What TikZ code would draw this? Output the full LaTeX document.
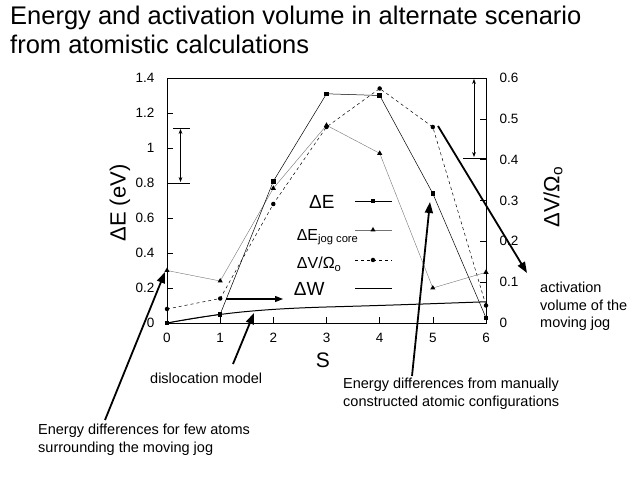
\documentclass[tikz,border=0pt]{standalone}
\usepackage{fontspec}
\setmainfont{Liberation Sans}
\usetikzlibrary{arrows.meta,shapes.geometric}
\begin{document}
\begin{tikzpicture}[x=1pt,y=-1pt,
  tick/.style={font=\fontsize{13.5}{16}\selectfont},
  note/.style={font=\fontsize{14.5}{17.5}\selectfont,align=left,anchor=north west,inner sep=0},
  big/.style={-{Triangle[length=11pt,width=8pt]},line width=1.8pt},
  dbl/.style={{Stealth[length=5pt]}-{Stealth[length=5pt]},line width=0.6pt},
  sq/.style={fill=black,minimum size=4.5pt,inner sep=0,rectangle},
  tri/.style={fill=black,regular polygon,regular polygon sides=3,minimum size=6pt,inner sep=0},
  dot/.style={fill=black,circle,minimum size=4.5pt,inner sep=0}]
\useasboundingbox (0,0) rectangle (638,478);
% title
\node[anchor=north west,inner sep=0,font=\fontsize{25.5}{29}\selectfont,align=left] (title) at (10,6) {Energy and activation volume in alternate scenario\\from atomistic calculations};
% frame
\draw[line width=0.5pt] (167,78) rectangle (486,323);
\foreach \v/\l in {0/0,0.2/0.2,0.4/0.4,0.6/0.6,0.8/0.8,1/1,1.2/1.2,1.4/1.4}{
  \pgfmathsetmacro\yy{323-175*\v}
  \draw (167,\yy) -- (173,\yy);
  \node[tick,anchor=east] at (158,\yy) {\l};}
\foreach \v in {0,0.1,0.2,0.3,0.4,0.5,0.6}{
  \pgfmathsetmacro\yy{323-408.3*\v}
  \draw (486,\yy) -- (480,\yy);
  \node[tick,anchor=west] at (496,\yy) {\v};}
\foreach \s in {0,...,6}{
  \pgfmathsetmacro\xx{167+53.17*\s}
  \draw (\xx,323) -- (\xx,317);
  \node[tick] at (\xx,338) {\s};}
\node[rotate=90,font=\fontsize{22}{26}\selectfont] (ylab) at (120,203) {ΔE (eV)};
\node[rotate=90,font=\fontsize{22}{26}\selectfont] (ylab2) at (553,197) {ΔV/Ω\textsubscript{o}};
\node[font=\fontsize{21}{25}\selectfont] (xlab) at (323,360) {S};
% data
\draw[line width=0.4pt,black!55] (167,270.5) -- (220.2,281) -- (273.3,188.3) -- (326.5,125.3) -- (379.7,153.3) -- (432.8,288) -- (486,272.3);
\foreach \p in {(167,270.5),(220.2,281),(273.3,188.3),(326.5,125.3),(379.7,153.3),(432.8,288),(486,272.3)} \node[tri] at \p {};
\draw[dash pattern=on 3pt off 3pt,line width=0.5pt] (167,309) -- (220.2,298.5) -- (273.3,204) -- (326.5,127) -- (379.7,88.5) -- (432.8,127) -- (486,305.5);
\foreach \p in {(167,309),(220.2,298.5),(273.3,204),(326.5,127),(379.7,88.5),(432.8,127),(486,305.5)} \node[dot] at \p {};
\draw[line width=0.5pt] (167,323) -- (220.2,314.3) -- (273.3,181.3) -- (326.5,93.8) -- (379.7,95.5) -- (432.8,193.5) -- (486,317.8);
\foreach \p in {(167,323),(220.2,314.3),(273.3,181.3),(326.5,93.8),(379.7,95.5),(432.8,193.5),(486,317.8)} \node[sq] at \p {};
\draw[line width=1pt] (167,323) .. controls (220,313) and (260,309) .. (326.5,307) .. controls (400,305) and (450,303) .. (486,301.8);
% legend
\node[font=\fontsize{19}{22}\selectfont,anchor=east] (lE) at (338,202) {ΔE};
\draw (355,201) -- (392,201); \node[sq] at (373,201) {};
\node[font=\fontsize{16}{19}\selectfont,anchor=east] (lJ) at (362,237) {ΔE\textsubscript{jog core}};
\draw[black!55] (355,230) -- (392,230); \node[tri] at (373,230) {};
\node[font=\fontsize{16}{19}\selectfont,anchor=east] (lV) at (345,264) {ΔV/Ω\textsubscript{o}};
\draw[dash pattern=on 3pt off 3pt] (355,260) -- (392,260); \node[dot] at (373,260) {};
\node[font=\fontsize{19}{22}\selectfont,anchor=east] (lW) at (328,289) {ΔW};
\draw[line width=1pt] (355,289) -- (392,289);
% brackets
\draw (173,128) -- (190,128); \draw (173,183) -- (190,183);
\draw[dbl] (180.5,129) -- (180.5,182);
\draw (463,78) -- (487,78); \draw (463,158) -- (487,158);
\draw[dbl] (474,79) -- (474,157);
\draw[-{Triangle[length=8pt,width=6pt]},line width=1.2pt] (226,299) -- (283,299);
% notes
\node[note] (n1) at (150,373) {dislocation model};
\node[note] (n2) at (343,378) {Energy differences from manually\\constructed atomic configurations};
\node[note] (n3) at (540,282) {activation\\volume of the\\moving jog};
\node[note] (n4) at (38,424) {Energy differences for few atoms\\surrounding the moving jog};
\draw[big] (105,420) -- (165,272);
\draw[big] (233,364) -- (254,313);
\draw[big] (412,376) -- (430,202);
\draw[big] (438,126) -- (527,273);
\end{tikzpicture}
\end{document}
